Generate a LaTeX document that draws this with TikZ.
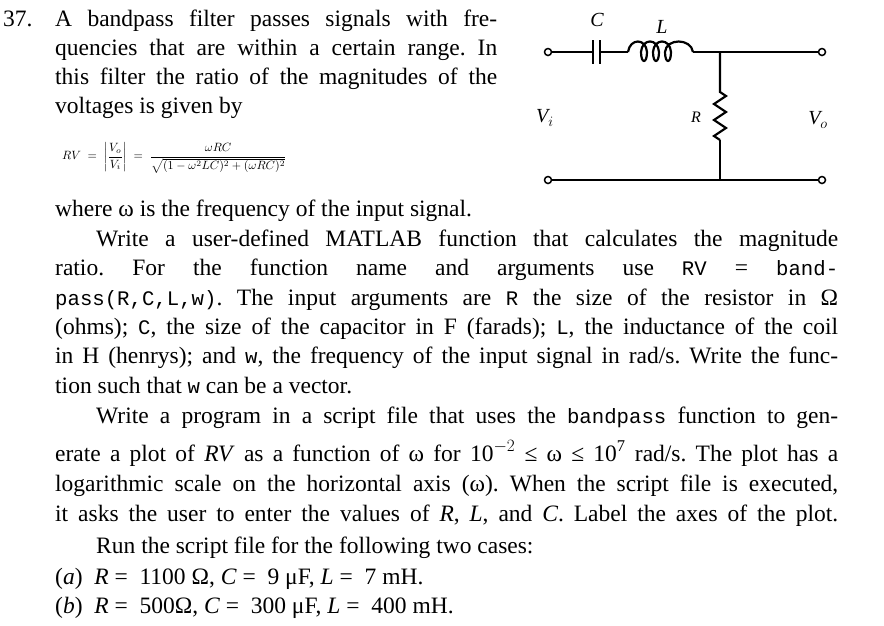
\documentclass[tikz,border=0pt]{standalone}
\usepackage{fontspec}
\setmainfont{Liberation Serif}
\setmonofont[Scale=0.88]{Liberation Mono}
\usepackage{amsmath}
\frenchspacing
\begin{document}
\frenchspacing
\begin{tikzpicture}[x=1pt,y=-1pt,
  txt/.style={anchor=base west,inner sep=0pt,font=\fontsize{23.5}{26}\selectfont\frenchspacing},
  wire/.style={line width=2.2pt},
  term/.style={circle,draw,line width=1.5pt,fill=white,inner sep=0pt,minimum size=7pt},
  lbl/.style={inner sep=0pt,font=\fontsize{20}{24}\selectfont\itshape}]
\useasboundingbox (0,0) rectangle (884,625);
% text lines
\node[txt] (n37) at (3,26) {37.};
\node[txt] (l1) at (55,26) {\makebox[442pt][s]{A bandpass filter passes signals with fre-}};
\node[txt] (l2) at (55,55) {\makebox[442pt][s]{quencies that are within a certain range. In}};
\node[txt] (l3) at (55,84) {\makebox[442pt][s]{this filter the ratio of the magnitudes of the}};
\node[txt] (l4) at (55,113) {voltages is given by};
\node[anchor=west,inner sep=0pt] (f) at (62,158)
 {\scalebox{1.2}{$RV\;=\;\left|\dfrac{V_o}{V_i}\right|\;=\;\dfrac{\omega RC}{\sqrt{(1-\omega^2LC)^2+(\omega RC)^2}}$}};
\node[txt] (l6) at (55,216) {where ω is the frequency of the input signal.};
\node[txt] (l7) at (96,246) {\makebox[742pt][s]{Write a user-defined MATLAB function that calculates the magnitude}};
\node[txt] (l8) at (55,275) {\makebox[783pt][s]{ratio. For the function name and arguments use \texttt{RV} = \texttt{band-}}};
\node[txt] (l9) at (55,305) {\makebox[783pt][s]{\texttt{pass(R,C,L,w)}. The input arguments are \texttt{R} the size of the resistor in Ω}};
\node[txt] (l10) at (55,334) {\makebox[783pt][s]{(ohms); \texttt{C}, the size of the capacitor in F (farads); \texttt{L}, the inductance of the coil}};
\node[txt] (l11) at (55,363) {\makebox[783pt][s]{in H (henrys); and \texttt{w}, the frequency of the input signal in rad/s. Write the func-}};
\node[txt] (l12) at (55,393) {tion such that \texttt{w} can be a vector.};
\node[txt] (l13) at (96,423) {\makebox[742pt][s]{Write a program in a script file that uses the \texttt{bandpass} function to gen-}};
\node[txt] (l14) at (55,461) {\makebox[783pt][s]{erate a plot of \textit{RV} as a function of ω for 10\textsuperscript{$-2$} ≤ ω ≤ 10\textsuperscript{7} rad/s. The plot has a}};
\node[txt] (l15) at (55,491) {\makebox[783pt][s]{logarithmic scale on the horizontal axis (ω). When the script file is executed,}};
\node[txt] (l16) at (55,521) {\makebox[783pt][s]{it asks the user to enter the values of \textit{R}, \textit{L}, and \textit{C}. Label the axes of the plot.}};
\node[txt] (l17) at (96,553) {Run the script file for the following two cases:};
\node[txt] (l18) at (55,584) {(\textit{a}) \ \textit{R} = \ 1100 Ω, \textit{C} = \ 9 μF, \textit{L} = \ 7 mH.};
\node[txt] (l19) at (55,613) {(\textit{b}) \ \textit{R} = \ 500Ω, \textit{C} = \ 300 μF, \textit{L} = \ 400 mH.};
% circuit
\coordinate (c1) at (593,52); \coordinate (c2) at (600,52);
\coordinate (i1) at (628,52); \coordinate (i2) at (693,52);
\coordinate (j) at (720,52); \coordinate (jb) at (720,180);
\coordinate (r1) at (720,92); \coordinate (r2) at (720,140);
\node[term] (tin) at (548,52) {};
\node[term] (tout) at (822,52) {};
\node[term] (bin) at (548,180) {};
\node[term] (bout) at (822,180) {};
\draw[wire] (tin) -- (c1);
\draw[wire] (c1)+(0,-12) -- +(0,12);
\draw[wire] (c2)+(0,-12) -- +(0,12);
\draw[wire] (c2) -- (i1);
\draw[wire] (i1) .. controls (630,38) and (646,38) .. (647,52)
  .. controls (647,64) and (641,64) .. (641,52)
  .. controls (642,38) and (658,38) .. (659,52)
  .. controls (659,64) and (653,64) .. (653,52)
  .. controls (654,38) and (670,38) .. (671,52)
  .. controls (671,64) and (665,64) .. (665,52)
  .. controls (666,38) and (691,38) .. (i2);
\draw[wire] (i2) -- (tout);
\draw[wire] (j) -- (r1) -- ++(6,4) -- ++(-12,8) -- ++(12,8) -- ++(-12,8) -- ++(12,8) -- ++(-12,8) -- (r2);
\draw[wire] (r2) -- (jb);
\draw[wire] (bin) -- (bout);
\node[lbl] (lc) at (597,20) {C};
\node[lbl] (ll) at (662,27) {L};
\node[lbl,font=\fontsize{16}{18}\selectfont\itshape] (lr) at (696,117) {R};
\node[lbl] (lvi) at (545,118) {V$_i$};
\node[lbl] (lvo) at (818,120) {V$_o$};
\end{tikzpicture}
\end{document}
